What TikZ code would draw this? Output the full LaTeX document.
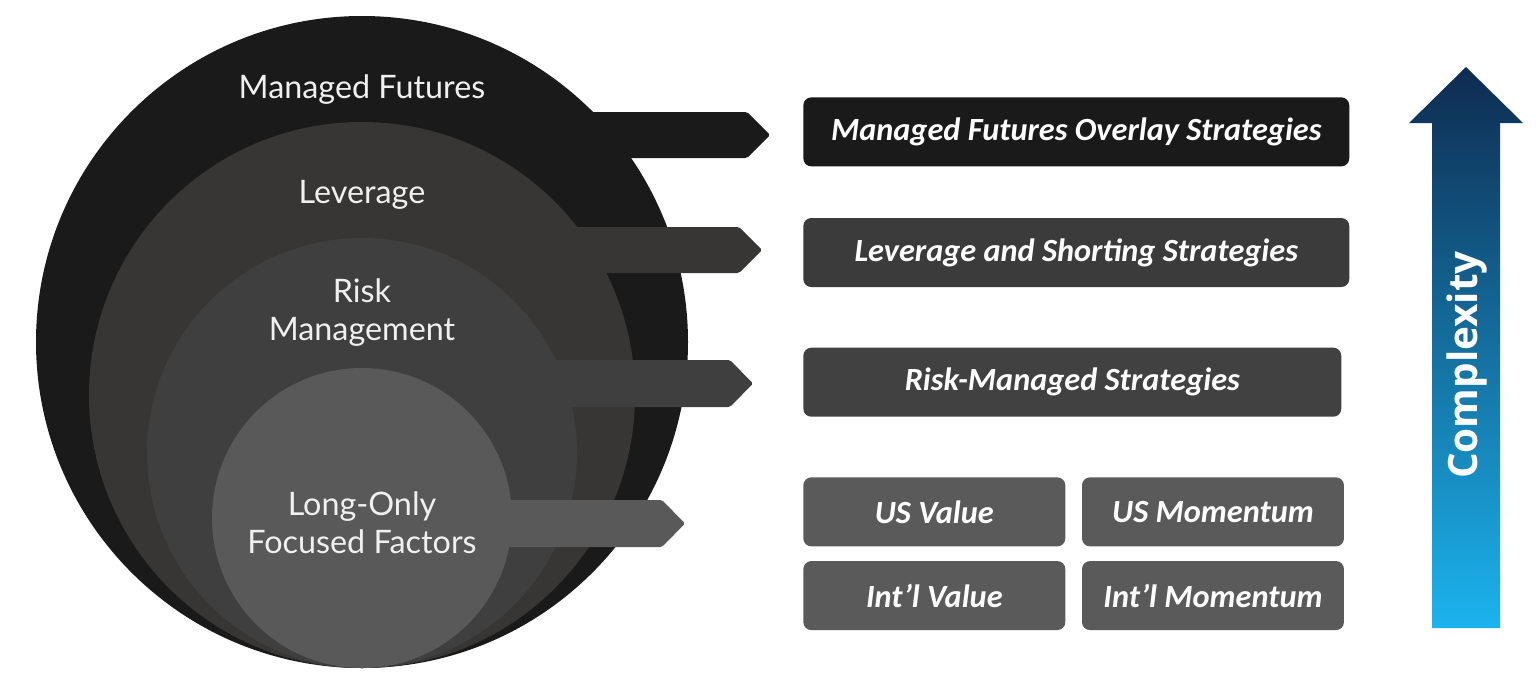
\documentclass[tikz,border=0pt]{standalone}
\usepackage{fontspec}
\setmainfont{Lato}
\newfontfamily\boxfont{Carlito}
\newfontfamily\axisfont{Open Sans}
\usetikzlibrary{positioning}

\definecolor{layerA}{HTML}{1A1A1A}
\definecolor{layerB}{HTML}{383634}
\definecolor{layerC}{HTML}{3F3F3F}
\definecolor{layerD}{HTML}{595959}
\definecolor{boxB}{HTML}{3B3B3B}
\definecolor{boxC}{HTML}{414141}
\definecolor{boxD}{HTML}{5A5A5A}
\definecolor{CxTop}{HTML}{0E2B50}
\definecolor{CxMid}{HTML}{1573AE}
\definecolor{CxBot}{HTML}{1BB3EE}

\begin{document}
\begin{tikzpicture}[
                x=0.02cm, y=-0.02cm,
                layerlabel/.style={text=white!94!black, align=center,
                            font=\fontsize{18.4}{21.6}\selectfont},
                stratbox/.style={rectangle, text=white, minimum height=1.38cm,
                            font=\boxfont\bfseries\itshape\fontsize{18.4}{21}\selectfont,
                            align=center, rounded corners=4.5pt, inner sep=0pt},
                wide/.style={stratbox, minimum width=10.92cm},
                small/.style={stratbox, fill=boxD, minimum width=5.24cm}
            ]
                \useasboundingbox (0,0) rectangle (1536,680);

                % nested layers, each with its tag arrow
                \foreach \cy/\rad/\ytop/\ybot/\xend/\col in {342/326/112/158/747/layerA,
                        395/273/227/273/739/layerB, 453/215/360/407/730/layerC,
                        518/150/500/547/662/layerD}{
                    \fill[\col] (362,\cy) circle[radius=\rad];
                    \fill[\col, rounded corners=1pt] (480,\ytop) -- (\xend,\ytop)
                        -- ({\xend+23},{(\ytop+\ybot)/2}) -- (\xend,\ybot) -- (480,\ybot) -- cycle;
                }

                \node[layerlabel] (mflabel) at (362,90) {Managed Futures};
                \node[layerlabel] (levlabel) at (362,195) {Leverage};
                \node[layerlabel] (risklabel) at (362,313) {Risk\\Management};
                \node[layerlabel] (longlabel) at (362,523) {Long-Only\\Focused Factors};

                % strategy boxes
                \node[wide, fill=layerA, anchor=north west] (overlay) at (803,97) {Managed Futures Overlay Strategies};
                \node[wide, fill=boxB, below=1.02cm of overlay] (shorting) {Leverage and Shorting Strategies};
                \node[stratbox, fill=boxC, minimum width=10.76cm, below right=1.2cm and 0cm of shorting.south west] (riskman) {Risk-Managed Strategies};
                \node[small, below right=1.2cm and 0cm of riskman.south west] (usval) {US Value};
                \node[small, right=0.32cm of usval] (usmom) {US Momentum};
                \node[small, below=0.28cm of usval] (intval) {Int’l Value};
                \node[small, right=0.32cm of intval] (intmom) {Int’l Momentum};

                % complexity arrow
                \shade[top color=CxTop, middle color=CxMid, bottom color=CxBot]
                    (1432,628) -- (1432,123) -- (1409,123) -- (1466,67) -- (1523,123)
                    -- (1500,123) -- (1500,628) -- cycle;
                \node[rotate=90, text=white, font=\axisfont\bfseries\fontsize{23}{27}\selectfont] (cxlabel) at (1467,365) {Complexity};
            \end{tikzpicture}
\end{document}
